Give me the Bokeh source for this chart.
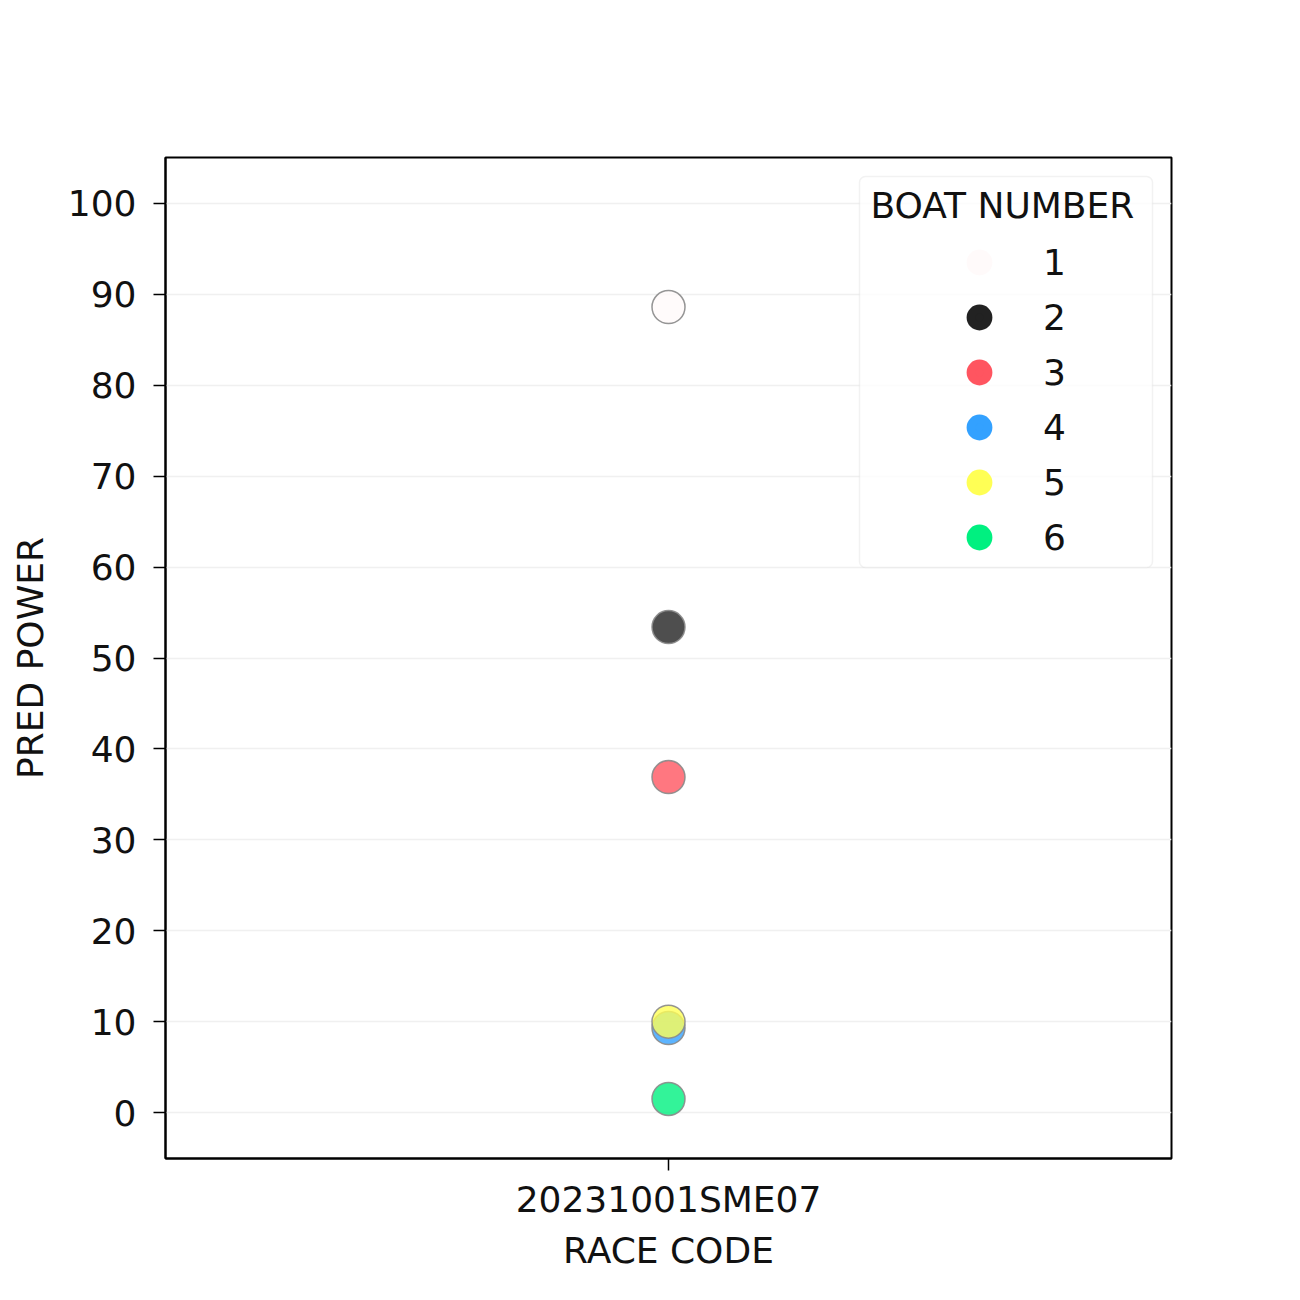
from bokeh.plotting import figure
from bokeh.models import (ColumnDataSource, FactorRange, Range1d, Legend, LegendItem,
                          SingleIntervalTicker, BoxAnnotation, Label)
from bokeh.embed import file_html
from bokeh.resources import INLINE

race_codes = ["20231001SME07"]
boat_numbers = ["1", "2", "3", "4", "5", "6"]
pred_power = [88.6, 53.4, 36.9, 9.3, 10.0, 1.5]
boat_colors = ["#fffafa", "#222222", "#ff5560", "#33a1ff", "#ffff55", "#00f080"]
legend_title = "BOAT NUMBER"

FONT = "DejaVu Sans"
FS = "36px"
TXT = "#111111"

p = figure(width=1300, height=1300, output_backend="svg", toolbar_location=None,
           x_range=FactorRange(factors=race_codes), y_range=Range1d(-5.05, 105.05),
           min_border_left=165, min_border_right=129, min_border_top=157, min_border_bottom=142)

# a range that is never shown: legend-only renderers are mapped into it so they stay off the frame
p.extra_y_ranges = {"legend_only": Range1d(1000, 1001)}

p.background_fill_color = "white"
p.border_fill_color = "white"
p.outline_line_color = "black"
p.outline_line_width = 2

p.xgrid.grid_line_color = None
p.ygrid.grid_line_color = "#f0f0f0"
p.ygrid.grid_line_width = 1.5
p.yaxis.ticker = SingleIntervalTicker(interval=10, num_minor_ticks=0)

for ax in (p.xaxis[0], p.yaxis[0]):
    ax.axis_line_color = "black"
    ax.axis_line_width = 2
    ax.major_tick_line_color = "black"
    ax.major_tick_line_width = 1.5
    ax.major_tick_out = 12
    ax.major_tick_in = 0
    ax.minor_tick_line_color = None
    ax.major_label_text_font = FONT
    ax.major_label_text_font_size = FS
    ax.major_label_text_color = TXT
    ax.axis_label_text_font = FONT
    ax.axis_label_text_font_size = FS
    ax.axis_label_text_font_style = "normal"
    ax.axis_label_text_color = TXT

p.xaxis.axis_label = "RACE CODE"
p.yaxis.axis_label = "PRED POWER"
p.xaxis.major_label_standoff = 8
p.xaxis.axis_label_standoff = 7
p.yaxis.major_label_standoff = 17
p.yaxis.axis_label_standoff = 14

# legend-only renderers (full colour, no edge); mapped to the hidden range
legend_items = []
for b, v, c in zip(boat_numbers, pred_power, boat_colors):
    src = ColumnDataSource(dict(x=race_codes, y=[v]))
    r = p.scatter("x", "y", source=src, y_range_name="legend_only",
                  size=1, fill_color=c, line_color=c, line_width=9)
    legend_items.append(LegendItem(label=b, renderers=[r]))

# actual points
for b, v, c in zip(boat_numbers, pred_power, boat_colors):
    src = ColumnDataSource(dict(x=race_codes, y=[v]))
    p.scatter("x", "y", source=src, size=33, fill_color=c, fill_alpha=0.8,
              line_color="#8a8a8a", line_width=1.5, line_alpha=0.9)

# legend frame + title
box = BoxAnnotation(left=694, right=987, bottom=591, top=982,
                    left_units="screen", right_units="screen",
                    top_units="screen", bottom_units="screen",
                    fill_color="white", fill_alpha=0.8,
                    line_color="#d5d5d5", line_width=1.5, border_radius=6)
p.add_layout(box)
title = Label(x=705, y=953, x_units="screen", y_units="screen", text=legend_title,
              text_font=FONT, text_font_size=FS, text_color=TXT,
              text_align="left", text_baseline="middle")
p.add_layout(title)

legend = Legend(items=legend_items, location=(784, 600))
legend.margin = 0
legend.padding = 0
legend.label_text_font = FONT
legend.label_text_font_size = FS
legend.label_text_color = TXT
legend.glyph_width = 60
legend.glyph_height = 42
legend.label_height = 42
legend.label_standoff = 34
legend.spacing = 13
legend.border_line_color = None
legend.background_fill_alpha = 0
p.add_layout(legend, "center")

open("out.html", "w").write(file_html(p, INLINE))
